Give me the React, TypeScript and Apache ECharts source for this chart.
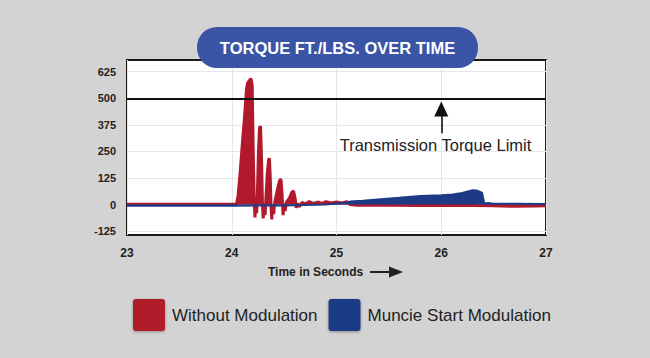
import React, { useEffect, useRef } from "react";
import * as echarts from "echarts";

const xTicks = [23, 24, 25, 26, 27];
const yTicks = [-125, 0, 125, 250, 375, 500, 625];
const torqueLimit = 500;

const redTime = [
  23.0, 23.5, 24.0, 24.045, 24.06, 24.08, 24.1, 24.12, 24.14, 24.15, 24.17, 24.185, 24.195,
  24.205, 24.215, 24.222, 24.23, 24.238, 24.245, 24.255, 24.265, 24.275, 24.285, 24.293, 24.3,
  24.31, 24.318, 24.325, 24.34, 24.352, 24.36, 24.368, 24.375, 24.382, 24.39, 24.4, 24.41,
  24.44, 24.458, 24.47, 24.48, 24.49, 24.5, 24.51, 24.52, 24.55, 24.575, 24.59, 24.605, 24.615,
  24.63, 24.645, 24.67, 24.7, 24.74, 24.78, 24.82, 24.86, 24.9, 24.95, 25.0, 25.05, 25.1, 25.13,
  25.2, 25.5, 25.8, 26.0, 26.3, 26.5, 26.7, 26.9, 27.0,
];
const redTorque = [
  2, 2, 2, 2, 40, 150, 280, 400, 540, 570, 585, 592, 560,
  250, 10, -60, 5, -40, 60, 250, 360, 369, 200, 10, -65,
  0, -50, 20, 150, 210, 218, 120, -10, -70, 0, -45, 10,
  80, 115, 119, 50, -50, 5, -30, 10, 30, 60, 63, 30, -15,
  5, -10, 10, 3, 14, 5, 12, 6, 14, 8, 12, 8, 14, 0,
  -3, -3, -4, -3, -4, -6, -8, -7, -6,
];

const blueTime = [
  23.0, 24.0, 24.5, 24.9, 25.0, 25.08, 25.13, 25.25, 25.42, 25.6, 25.8, 26.0, 26.11, 26.2,
  26.3, 26.35, 26.39, 26.41, 26.45, 26.5, 26.7, 27.0,
];
const blueTorque = [
  -5, -5, -4, 0, 5, 8, 14, 18, 25, 32, 40, 44, 48, 55,
  68, 65, 55, 5, 8, 4, 4, 3,
];

const seriesNames = ["Without Modulation", "Muncie Start Modulation"];
const RED = "#b01a2c";
const BLUE = "#1d3a85";
const FONT = '"Liberation Sans", Arial, Helvetica, sans-serif';
const SQUARE_ICON =
  "path://M3,0 H29 Q32,0 32,3 V29 Q32,32 29,32 H3 Q0,32 0,29 V3 Q0,0 3,0 Z";

export default function App() {
  const ref = useRef<HTMLDivElement>(null);
  useEffect(() => {
    if (!ref.current) return;
    const chart = echarts.init(ref.current, undefined, { renderer: "svg" });
    const redData = redTime.map((t, i) => [t, redTorque[i]]);
    const blueData = blueTime.map((t, i) => [t, blueTorque[i]]);
    chart.setOption({
      animation: false,
      backgroundColor: "#d3d3d3",
      textStyle: { fontFamily: FONT },
      grid: {
        left: 127,
        right: 104,
        top: 60,
        bottom: 123,
        show: true,
        backgroundColor: "#ffffff",
        borderColor: "#1a1a1a",
        borderWidth: 2,
      },
      xAxis: {
        type: "value",
        min: xTicks[0],
        max: xTicks[xTicks.length - 1],
        interval: 1,
        axisLine: { show: false },
        axisTick: { show: false },
        axisLabel: { fontSize: 12, fontWeight: "bold", color: "#222", margin: 12, fontFamily: FONT },
        splitLine: { show: true, lineStyle: { color: "#e6e6e6", width: 1 } },
      },
      yAxis: {
        type: "value",
        min: -143,
        max: 680,
        axisLine: { show: false },
        axisTick: { show: false, customValues: yTicks },
        axisLabel: {
          customValues: yTicks,
          fontSize: 11,
          fontWeight: "bold",
          color: "#222",
          margin: 11,
          fontFamily: FONT,
        },
        splitLine: { show: true, lineStyle: { color: "#e6e6e6", width: 1 } },
      },
      legend: {
        data: seriesNames,
        left: 133,
        top: 299,
        padding: 0,
        itemWidth: 32,
        itemHeight: 32,
        itemGap: 11,
        icon: SQUARE_ICON,
        selectedMode: false,
        itemStyle: { shadowBlur: 3, shadowColor: "rgba(0,0,0,0.35)", shadowOffsetY: 1 },
        textStyle: { fontSize: 17, color: "#222", fontFamily: FONT, padding: [0, 0, 0, 2] },
      },
      series: [
        {
          name: seriesNames[0],
          type: "line",
          data: redData,
          showSymbol: false,
          color: RED,
          lineStyle: { color: RED, width: 3 },
          areaStyle: { color: RED, opacity: 1, origin: 0 },
          z: 2,
          markLine: {
            silent: true,
            animation: false,
            symbol: ["none", "none"],
            label: { show: false },
            lineStyle: { color: "#111", width: 1.6, type: "solid" },
            data: [
              {
                yAxis: torqueLimit,
                lineStyle: { color: "#111", width: 1.8, type: "solid" },
              },
              [
                { coord: [26, 335], symbol: "none" },
                { coord: [26, 449], symbol: "triangle", symbolSize: [14, 15] },
              ],
            ],
          },
        },
        {
          name: seriesNames[1],
          type: "line",
          data: blueData,
          showSymbol: false,
          color: BLUE,
          lineStyle: { color: BLUE, width: 2 },
          areaStyle: { color: BLUE, opacity: 1, origin: 0 },
          z: 3,
        },
      ],
      graphic: [
        {
          type: "rect",
          z: 100,
          shape: { x: 197, y: 27, width: 281, height: 41, r: 20 },
          style: { fill: "#3a54a6" },
        },
        {
          type: "text",
          z: 101,
          x: 337.5,
          y: 47.5,
          style: {
            text: "TORQUE FT./LBS. OVER TIME",
            fill: "#ffffff",
            fontSize: 16.5,
            fontWeight: "bold",
            fontFamily: FONT,
            align: "center",
            verticalAlign: "middle",
          },
        },
        {
          type: "text",
          z: 50,
          x: 435.5,
          y: 145,
          style: {
            text: "Transmission Torque Limit",
            fill: "#222",
            fontSize: 16.5,
            fontFamily: FONT,
            align: "center",
            verticalAlign: "middle",
          },
        },
        {
          type: "text",
          z: 50,
          x: 268,
          y: 272,
          style: {
            text: "Time in Seconds",
            fill: "#222",
            fontSize: 12,
            fontWeight: "bold",
            fontFamily: FONT,
            align: "left",
            verticalAlign: "middle",
          },
        },
        {
          type: "line",
          z: 50,
          shape: { x1: 370, y1: 272, x2: 392, y2: 272 },
          style: { stroke: "#222", lineWidth: 2 },
        },
        {
          type: "polygon",
          z: 50,
          shape: { points: [[389, 266.5], [403, 272], [389, 277.5]] },
          style: { fill: "#222" },
        },
      ],
    });
    return () => chart.dispose();
  }, []);
  return (
    <div
      ref={ref}
      style={{ position: "fixed", left: 0, top: 0, width: 650, height: 358, background: "#d3d3d3" }}
    />
  );
}
